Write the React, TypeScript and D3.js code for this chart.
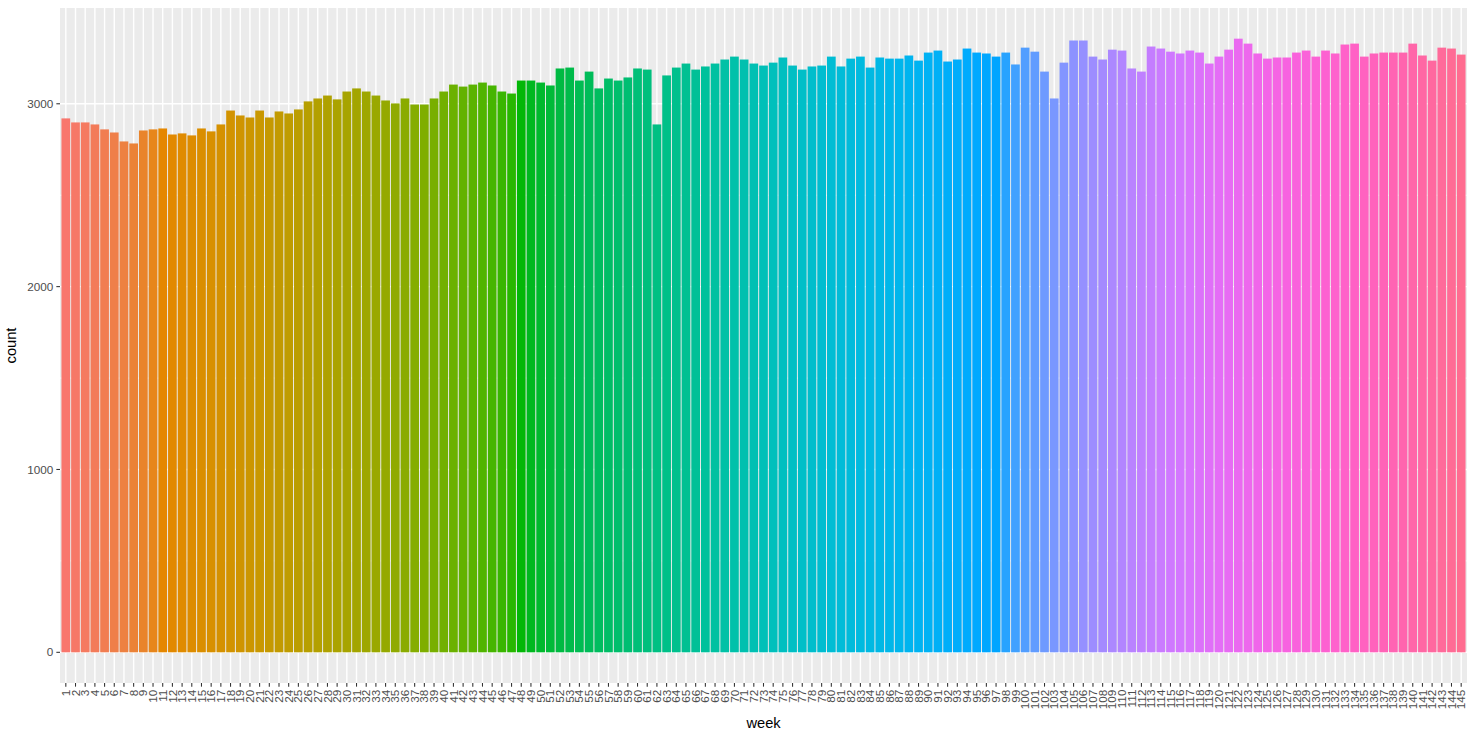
import * as d3 from "d3";
import { useEffect } from "react";

// weekly counts
const counts = [
  2920, 2898, 2898, 2887, 2860, 2843, 2794, 2783, 2854, 2860,
  2865, 2832, 2838, 2827, 2865, 2849, 2887, 2963, 2936, 2925,
  2963, 2925, 2958, 2947, 2969, 3013, 3029, 3045, 3024, 3067,
  3084, 3067, 3045, 3018, 3002, 3029, 2996, 2996, 3029, 3067,
  3105, 3094, 3105, 3116, 3100, 3067, 3056, 3127, 3127, 3116,
  3100, 3193, 3198, 3127, 3176, 3084, 3138, 3127, 3144, 3193,
  3187, 2887, 3155, 3198, 3220, 3187, 3204, 3220, 3242, 3258,
  3242, 3220, 3209, 3225, 3253, 3209, 3187, 3204, 3209, 3258,
  3204, 3247, 3258, 3198, 3253, 3247, 3247, 3264, 3236, 3280,
  3291, 3231, 3242, 3302, 3280, 3275, 3258, 3280, 3215, 3307,
  3285, 3176, 3029, 3225, 3346, 3346, 3258, 3242, 3296, 3291,
  3193, 3176, 3313, 3302, 3285, 3275, 3291, 3280, 3220, 3258,
  3296, 3356, 3329, 3275, 3247, 3253, 3253, 3280, 3291, 3258,
  3291, 3275, 3324, 3329, 3258, 3275, 3280, 3280, 3280, 3329,
  3264, 3236, 3307, 3302, 3269,
];
const weeks = counts.map((_, i) => String(i + 1));
const yTicks = [0, 1000, 2000, 3000];
const yMinor = [500, 1500, 2500];
// the fill palette in the picture ends on pink, as if it had ~150 hue steps
const paletteSteps = 150;

// grDevices::hcl (polar Luv) -> sRGB hex, as scales::hue_pal uses
function hclLuv(h: number, c: number, l: number) {
  const Xn = 95.047, Yn = 100, Zn = 108.883;
  const rad = (h * Math.PI) / 180;
  const U = c * Math.cos(rad);
  const V = c * Math.sin(rad);
  const Y = Yn * (l > 7.999592 ? Math.pow((l + 16) / 116, 3) : l / 903.3);
  const t = Xn + 15 * Yn + 3 * Zn;
  const un = (4 * Xn) / t;
  const vn = (9 * Yn) / t;
  const u = U / (13 * l) + un;
  const v = V / (13 * l) + vn;
  const X = (9 * Y * u) / (4 * v);
  const Z = -X / 3 - 5 * Y + (3 * Y) / v;
  const g = (x: number) => (x > 0.00304 ? 1.055 * Math.pow(x, 1 / 2.4) - 0.055 : 12.92 * x);
  const r = g((3.240479 * X - 1.53715 * Y - 0.498535 * Z) / Yn);
  const gg = g((-0.969256 * X + 1.875992 * Y + 0.041556 * Z) / Yn);
  const b = g((0.055648 * X - 0.204043 * Y + 1.057311 * Z) / Yn);
  const clip = (x: number) => Math.max(0, Math.min(255, Math.round(x * 255)));
  return d3.rgb(clip(r), clip(gg), clip(b)).formatHex();
}

function huePal(n: number, steps: number) {
  return d3.range(n).map((i) => hclLuv((15 + (i * 360) / steps) % 360, 100, 65));
}

const font = "'Liberation Sans', Arial, sans-serif";

export default function App() {
  useEffect(() => {
    document.body.style.margin = "0";
  }, []);

  const width = 1474;
  const height = 738;
  const panel = { left: 60, right: 1467, top: 8, bottom: 683 };

  const n = weeks.length;
  const x = d3
    .scaleLinear()
    .domain([0.4, n + 0.6])
    .range([panel.left, panel.right]);
  const barW = x(1.9) - x(1);
  const yMax = d3.max(counts) ?? 0;
  const y = d3
    .scaleLinear()
    .domain([-0.05 * yMax, yMax * 1.05])
    .range([panel.bottom, panel.top]);
  const colors = huePal(n, paletteSteps);

  return (
    <svg width={width} height={height} style={{ display: "block", background: "#fff" }} fontFamily={font}>
      <rect
        x={panel.left}
        y={panel.top}
        width={panel.right - panel.left}
        height={panel.bottom - panel.top}
        fill="#EBEBEB"
      />
      {yMinor.map((t) => (
        <line key={`m${t}`} x1={panel.left} x2={panel.right} y1={y(t)} y2={y(t)} stroke="#fff" strokeWidth={0.71} />
      ))}
      {yTicks.map((t) => (
        <line key={`g${t}`} x1={panel.left} x2={panel.right} y1={y(t)} y2={y(t)} stroke="#fff" strokeWidth={1.42} />
      ))}
      {weeks.map((w, i) => (
        <line key={`v${w}`} x1={x(i + 1)} x2={x(i + 1)} y1={panel.top} y2={panel.bottom} stroke="#fff" strokeWidth={1.42} />
      ))}
      {counts.map((c, i) => (
        <rect
          key={weeks[i]}
          x={x(i + 1) - barW / 2}
          y={y(c)}
          width={barW}
          height={y(0) - y(c)}
          fill={colors[i]}
        />
      ))}

      {/* y axis */}
      {yTicks.map((t) => (
        <g key={`yt${t}`}>
          <line x1={panel.left - 3.65} x2={panel.left} y1={y(t)} y2={y(t)} stroke="#333" strokeWidth={1.07} />
          <text x={panel.left - 6.6} y={y(t)} dy="0.35em" textAnchor="end" fontSize={11.73} fill="#4D4D4D">
            {t}
          </text>
        </g>
      ))}

      {/* x axis */}
      {weeks.map((w, i) => (
        <g key={`xt${w}`}>
          <line x1={x(i + 1)} x2={x(i + 1)} y1={panel.bottom} y2={panel.bottom + 3.65} stroke="#333" strokeWidth={1.07} />
          <text
            transform={`translate(${x(i + 1)},${panel.bottom + 6.6}) rotate(-90)`}
            dy="0.35em"
            textAnchor="end"
            fontSize={11.73}
            fill="#4D4D4D"
          >
            {w}
          </text>
        </g>
      ))}

      <text x={(panel.left + panel.right) / 2} y={728} textAnchor="middle" fontSize={14.67} fill="#000">
        week
      </text>
      <text
        transform={`translate(16,${(panel.top + panel.bottom) / 2}) rotate(-90)`}
        textAnchor="middle"
        fontSize={14.67}
        fill="#000"
      >
        count
      </text>
    </svg>
  );
}
